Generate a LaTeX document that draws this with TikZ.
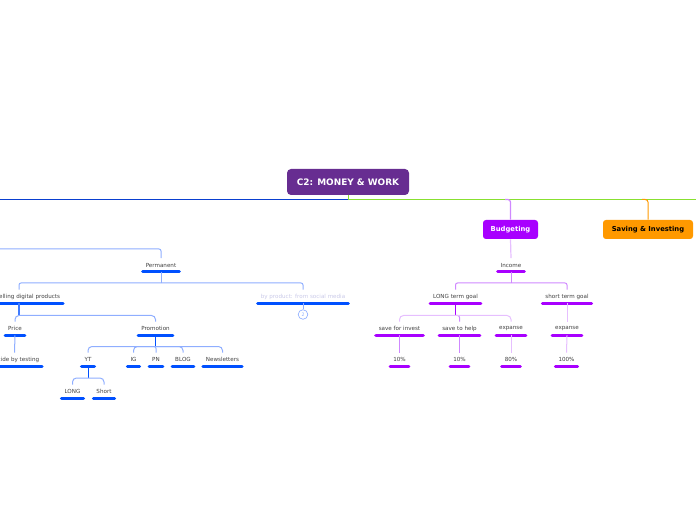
\documentclass[tikz,border=0pt]{standalone}
\usepackage{fontspec}
\setmainfont{DejaVu Sans}
\definecolor{rootpurple}{HTML}{672D91}
\definecolor{budgetpurple}{HTML}{A800FF}
\definecolor{savingorange}{HTML}{FF9900}
\definecolor{stemgreen}{HTML}{88E030}
\definecolor{stemblue}{HTML}{0A3FD0}
\definecolor{barblue}{HTML}{0050FF}
\definecolor{linkblue}{HTML}{8FAEFF}
\definecolor{linkpurple}{HTML}{CF88FF}
\definecolor{palepurple}{HTML}{E6BFFF}
\definecolor{faintlabel}{HTML}{C9C9E8}
\tikzset{
  px/.style={x=0.75pt, y=-0.75pt},
  topic/.style={text=black!75, font=\fontsize{4.2pt}{5pt}\selectfont, inner xsep=3pt, inner ysep=0pt,
    minimum height=9.75pt, append after command={
      (\tikzlastnode.south west) edge[line width=2.3pt, line cap=round, draw=#1, shorten <=0.9pt, shorten >=0.9pt] (\tikzlastnode.south east)}},
  headbox/.style={fill=#1, rounded corners=2.2pt, font=\fontsize{5.1pt}{6pt}\selectfont\bfseries, minimum height=14.25pt, inner xsep=0pt},
  bluelink/.style={draw=linkblue, line width=0.75pt, rounded corners=#1},
  bluelink/.default=1.5pt,
  purplelink/.style={draw=linkpurple, line width=0.75pt, rounded corners=#1},
  purplelink/.default=1.5pt,
}
\begin{document}
\begin{tikzpicture}[px]
\useasboundingbox (0,0) rectangle (696,520);
\node[fill=rootpurple, rounded corners=3pt, text=white, font=\fontsize{6.7pt}{7pt}\selectfont\bfseries, minimum width=91.5pt, minimum height=19.5pt, inner sep=0pt] (root) at (348,182) {C2: MONEY \& WORK};
\coordinate (hub) at (348,199.5);
\coordinate (leftend) at (-5,199.5);
\coordinate (rightend) at (701,199.5);
\coordinate (budgetfork) at (505,199.5);
\coordinate (savingfork) at (642,199.5);
\coordinate (permfork) at (-5,249);

\node[headbox=budgetpurple, text=white, minimum width=41.25pt] (budgeting) at (510.5,229.5) {Budgeting};
\node[headbox=savingorange, text=black, minimum width=67.5pt] (saving) at (648,229.5) {Saving \& Investing};

% left side
\node[topic=barblue] (permanent) at (161,265) {Permanent};
\node[topic=barblue, text width=61.5pt, align=right] (selling) at (19,296.5) {selling digital products};
\node[topic=barblue, text=faintlabel] (byproduct) at (303,296.5) {by product: from social media};
\node[circle, draw=linkblue, line width=0.5pt, inner sep=0pt, minimum size=7.2pt, text=linkblue, font=\fontsize{3.5pt}{4pt}\selectfont] (count) at (303,314.5) {2};
\node[topic=barblue] (price) at (15,328.5) {Price};
\node[topic=barblue] (promotion) at (155.5,328.5) {Promotion};
\node[topic=barblue] (testing) at (14.5,359.5) {Decide by testing};
\node[topic=barblue] (yt) at (88,359.5) {YT};
\node[topic=barblue] (ig) at (133.5,359.5) {IG};
\node[topic=barblue] (pn) at (156,359.5) {PN};
\node[topic=barblue] (blog) at (183,359.5) {BLOG};
\node[topic=barblue] (news) at (222.5,359.5) {Newsletters};
\node[topic=barblue] (long) at (72.5,391.5) {LONG};
\node[topic=barblue] (short) at (104,391.5) {Short};

% right side
\node[topic=budgetpurple] (income) at (511,265) {Income};
\node[topic=budgetpurple] (longgoal) at (455.5,296.5) {LONG term goal};
\node[topic=budgetpurple] (shortgoal) at (567,296.5) {short term goal};
\node[topic=budgetpurple] (invest) at (399.5,328.5) {save for invest};
\node[topic=budgetpurple] (help) at (459.5,328.5) {save to help};
\node[topic=budgetpurple] (expanseA) at (511,328.5) {expanse};
\node[topic=budgetpurple] (expanseB) at (567,328.5) {expanse};
\node[topic=budgetpurple] (pctA) at (399.5,359.5) {10\%};
\node[topic=budgetpurple] (pctB) at (459.5,359.5) {10\%};
\node[topic=budgetpurple] (pctC) at (511,359.5) {80\%};
\node[topic=budgetpurple] (pctD) at (566.5,359.5) {100\%};

% forks
\coordinate (forkperm) at (161,283);
\coordinate (forksell) at (19,315.5);
\coordinate (forkpromo) at (155.5,346.5);
\coordinate (forkyt) at (88,378);
\coordinate (forkincome) at (511,283);
\coordinate (forklong) at (455.5,315.5);

% stems from the root
\draw[stemgreen, line width=0.75pt] (root.south -| hub) -- (hub);
\draw[stemgreen, line width=0.75pt] (hub) -- (rightend);
\draw[stemblue, line width=0.75pt] (hub) -- (leftend);
\draw[linkpurple, line width=0.9pt, rounded corners=2pt] (budgetfork) -| (budgeting.north);
\draw[savingorange, line width=0.75pt, rounded corners=2pt] (savingfork) -| (saving.north);
\draw[palepurple, line width=0.9pt] (budgeting.south) -- (income.north);

% blue links
\draw[bluelink] (permfork) -| (permanent.north);
\draw[bluelink] (permanent.south) -- (forkperm);
\draw[bluelink] (forkperm) -| (selling.north);
\draw[bluelink] (forkperm) -| (byproduct.north);
\draw[bluelink] (byproduct.south) -- (count);
\draw[barblue!75, line width=0.9pt] (selling.south) -- (forksell);
\draw[bluelink=3pt] (forksell) -| (price.north);
\draw[bluelink=3pt] (forksell) -| (promotion.north);
\draw[bluelink] (price.south) -- (testing.north);
\draw[barblue, line width=0.75pt] (promotion.south) -- (forkpromo);
\draw[bluelink=3pt] (forkpromo) -| (yt.north);
\draw[bluelink=3pt] (forkpromo) -| (ig.north);
\draw[bluelink] (forkpromo) -| (pn.north);
\draw[bluelink=3pt] (forkpromo) -| (blog.north);
\draw[bluelink=3pt] (forkpromo) -| (news.north);
\draw[barblue, line width=0.75pt] (yt.south) -- (forkyt);
\draw[bluelink=3pt] (forkyt) -| (long.north);
\draw[bluelink=3pt] (forkyt) -| (short.north);

% purple links
\draw[purplelink] (income.south) -- (forkincome);
\draw[purplelink] (forkincome) -| (longgoal.north);
\draw[purplelink] (forkincome) -| (shortgoal.north);
\draw[budgetpurple, line width=0.75pt] (longgoal.south) -- (forklong);
\draw[palepurple, line width=0.75pt, rounded corners=3pt] (forklong) -| (invest.north);
\draw[purplelink] (forklong) -| (help.north);
\draw[palepurple, line width=0.75pt, rounded corners=3pt] (forklong) -| (expanseA.north);
\draw[palepurple, line width=0.75pt] (shortgoal.south) -- (expanseB.north);
\draw[purplelink] (invest.south) -- (pctA.north);
\draw[purplelink] (help.south) -- (pctB.north);
\draw[palepurple, line width=0.75pt] (expanseA.south) -- (pctC.north);
\draw[palepurple, line width=0.75pt] (expanseB.south) -- (pctD.north);
\end{tikzpicture}
\end{document}
